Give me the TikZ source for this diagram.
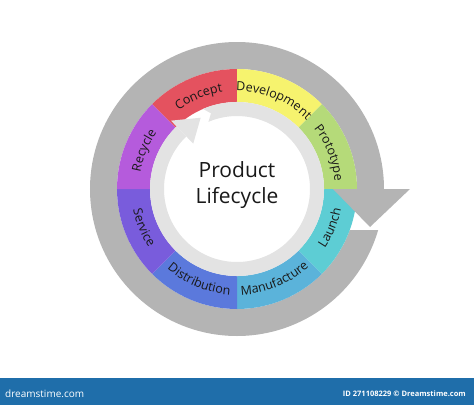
\documentclass[tikz,border=0pt]{standalone}
\usepackage{fontspec}
\setmainfont{Open Sans}
\usetikzlibrary{decorations.text}

\begin{document}
\begin{tikzpicture}[x=1pt, y=1pt,
    arclabel/.style={decorate, decoration={text along path, text align=center,
        text color=black!90, text={|\fontsize{12.5}{15}\selectfont|#1}}},
    titletext/.style={anchor=base, font=\fontsize{21}{26}\selectfont, text=black!90},
    bartext/.style={text=white, inner sep=0pt}]
    % Define stage colors
    \definecolor{cConcept}{RGB}{228, 82, 95}       % Red
    \definecolor{cDevelop}{RGB}{246, 243, 110}     % Yellow
    \definecolor{cProto}{RGB}{181, 218, 121}       % Green
    \definecolor{cLaunch}{RGB}{93, 205, 212}       % Cyan
    \definecolor{cManuf}{RGB}{91, 179, 218}        % Light blue
    \definecolor{cDistrib}{RGB}{91, 121, 220}      % Blue
    \definecolor{cService}{RGB}{121, 92, 220}      % Violet
    \definecolor{cRecycle}{RGB}{181, 91, 220}      % Purple
    \definecolor{ringgray}{RGB}{180, 180, 180}
    \definecolor{ringlight}{RGB}{227, 227, 227}
    \definecolor{barblue}{RGB}{31, 110, 170}

    % Picture frame (center of the cycle at the origin)
    \useasboundingbox (-237,-216) rectangle (237,189);

    % --- OUTER: big gray circular arrow ---
    \fill[ringgray] (0:147) arc[start angle=0, end angle=343.8, radius=147]
        -- (340:120) arc[start angle=340, end angle=0, radius=120] -- cycle;

    % --- Stage ring (8 segments of 45 degrees) ---
    \fill[cConcept] (90:87) arc[start angle=90, end angle=135, radius=87] -- (135:120) arc[start angle=135, end angle=90, radius=120] -- cycle;
    \fill[cDevelop] (45:87) arc[start angle=45, end angle=90, radius=87] -- (90:120) arc[start angle=90, end angle=45, radius=120] -- cycle;
    \fill[cProto] (0:87) arc[start angle=0, end angle=45, radius=87] -- (45:120) arc[start angle=45, end angle=0, radius=120] -- cycle;
    \fill[cLaunch] (-45:87) arc[start angle=-45, end angle=0, radius=87] -- (0:120) arc[start angle=0, end angle=-45, radius=120] -- cycle;
    \fill[cManuf] (-90:87) arc[start angle=-90, end angle=-45, radius=87] -- (-45:120) arc[start angle=-45, end angle=-90, radius=120] -- cycle;
    \fill[cDistrib] (-135:87) arc[start angle=-135, end angle=-90, radius=87] -- (-90:120) arc[start angle=-90, end angle=-135, radius=120] -- cycle;
    \fill[cService] (180:87) arc[start angle=180, end angle=225, radius=87] -- (225:120) arc[start angle=225, end angle=180, radius=120] -- cycle;
    \fill[cRecycle] (135:87) arc[start angle=135, end angle=180, radius=87] -- (180:120) arc[start angle=180, end angle=135, radius=120] -- cycle;

    % Outer arrow head (over the Launch corner)
    \fill[ringgray] (96,0) -- (173,0) -- (133,-38) -- cycle;

    % --- INNER: light gray circular arrow ---
    \fill[ringlight] (113:87) arc[start angle=113, end angle=-226, radius=87]
        -- (-226:73) arc[start angle=-226, end angle=113, radius=73] -- (109:80) -- cycle;
    \fill[ringlight] (134:95) -- (134:63) -- (117:80) -- cycle;

    % Stage labels (top half clockwise, bottom half counter-clockwise)
    \path[arclabel=Concept] (145:98) arc[start angle=145, end angle=80, radius=98];
    \path[arclabel=Development] (102:98) arc[start angle=102, end angle=33, radius=98];
    \path[arclabel=Prototype] (54:98) arc[start angle=54, end angle=-11, radius=98];
    \path[arclabel=Recycle] (190:98) arc[start angle=190, end angle=125, radius=98];
    \path[arclabel=Launch] (305:106) arc[start angle=305, end angle=370, radius=106];
    \path[arclabel=Manufacture] (258:106) arc[start angle=258, end angle=327, radius=106];
    \path[arclabel=Distribution] (213:106) arc[start angle=213, end angle=282, radius=106];
    \path[arclabel=Service] (170:106) arc[start angle=170, end angle=235, radius=106];

    % Title in the middle
    \node[titletext] (product) at (0,12) {Product};
    \node[titletext] (lifecycle) at (0,-14) {Lifecycle};

    % --- Bottom bar ---
    \fill[barblue] (-237,-216) rectangle (237,-189);
    \node[bartext, anchor=west, font=\fontsize{10}{12}\selectfont] (brand) at (-232,-205) {dreamstime.com};
    \node[bartext, anchor=east, font=\bfseries\fontsize{7.5}{9}\selectfont] (imageid) at (229,-205) {ID 271108229 © Dreamstime.com};
\end{tikzpicture}
\end{document}
